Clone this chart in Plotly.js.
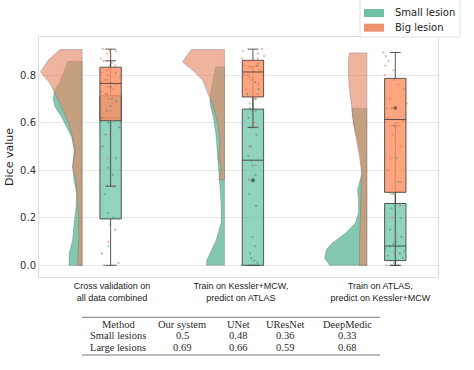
<!DOCTYPE html>
<html><head><meta charset="utf-8">
<script src="https://cdn.plot.ly/plotly-3.0.1.min.js"></script>
<style>html,body{margin:0;padding:0;background:#fff}#chart{width:474px;height:370px}</style>
</head><body><div id="chart"></div>
<script>
// ---------- data ----------
const categories = ["Cross validation on<br>all data combined", "Train on Kessler+MCW,<br>predict on ATLAS", "Train on ATLAS,<br>predict on Kessler+MCW"];
const groupNames = ["Small lesion", "Big lesion"];

// box statistics
const smallQ1 = [0.195, 0.0, 0.02];
const smallMedian = [0.62, 0.442, 0.081];
const smallQ3 = [0.713, 0.657, 0.26];
const smallLower = [0.0, 0.0, 0.0];
const smallUpper = [0.86, 0.837, 0.587];
const bigQ1 = [0.608, 0.708, 0.307];
const bigMedian = [0.765, 0.813, 0.613];
const bigQ3 = [0.833, 0.862, 0.786];
const bigLower = [0.333, 0.58, 0.0];
const bigUpper = [0.909, 0.909, 0.895];
const smallMean = [null, 0.358, null];
const bigMean = [null, null, 0.662];

// half-violin density profiles (dice level, density width)
const smallDensY1 = [0.0, 0.05, 0.106, 0.176, 0.246, 0.302, 0.358, 0.414, 0.484, 0.54, 0.582, 0.624, 0.666, 0.70, 0.74, 0.765, 0.807, 0.858];
const smallDensW1 = [13, 13, 9.5, 8, 6, 5.5, 8, 9.5, 8, 10.5, 15.5, 20.5, 27, 29, 27, 23, 19, 14];
const bigDensY1 = [0.0, 0.05, 0.106, 0.2, 0.3, 0.358, 0.414, 0.484, 0.54, 0.603, 0.666, 0.72, 0.765, 0.813, 0.862, 0.907];
const bigDensW1 = [4.5, 4, 3.3, 3.5, 5, 6, 9.5, 7, 9.5, 14, 20.5, 27, 32, 41.5, 34, 22];
const smallDensY2 = [0.0, 0.022, 0.064, 0.106, 0.18, 0.25, 0.32, 0.39, 0.46, 0.55, 0.62, 0.68, 0.72, 0.78, 0.835];
const smallDensW2 = [18, 17.6, 13.3, 8.3, 3.3, 3.3, 4.3, 5.7, 6.7, 8.5, 11, 14.5, 14, 11.5, 9];
const bigDensY2 = [0.36, 0.386, 0.414, 0.456, 0.526, 0.597, 0.68, 0.722, 0.778, 0.82, 0.855, 0.907];
const bigDensW2 = [5.7, 4, 3.3, 5.7, 4.3, 6.7, 12, 16.6, 21.6, 31.6, 42, 33];
const smallDensY3 = [0.0, 0.029, 0.064, 0.092, 0.134, 0.176, 0.218, 0.274, 0.316, 0.386, 0.456, 0.526, 0.597, 0.66];
const smallDensW3 = [37, 42, 40.6, 35, 21.7, 11.7, 8.5, 8.3, 9.3, 5, 6, 9.3, 13.3, 15];
const bigDensY3 = [0.0, 0.106, 0.176, 0.246, 0.316, 0.386, 0.456, 0.526, 0.597, 0.666, 0.737, 0.807, 0.862, 0.893];
const bigDensW3 = [7.3, 7.3, 6.7, 6.7, 6, 5, 7.3, 10, 13.3, 15, 17.4, 18.3, 18.3, 17.4];

// individual observations (rain)
const smallPts1 = [0.86, 0.84, 0.81, 0.78, 0.75, 0.73, 0.72, 0.70, 0.69, 0.67, 0.65, 0.62, 0.60, 0.58, 0.55, 0.5, 0.45, 0.41, 0.38, 0.3, 0.22, 0.2, 0.17, 0.15, 0.08, 0.05, 0.01, 0.0, 0.0];
const bigPts1 = [0.91, 0.9, 0.9, 0.89, 0.88, 0.87, 0.86, 0.85, 0.84, 0.83, 0.82, 0.81, 0.8, 0.79, 0.78, 0.77, 0.76, 0.75, 0.74, 0.72, 0.7, 0.68, 0.65, 0.61, 0.55, 0.45, 0.33, 0.1, 0.0];
const smallPts2 = [0.84, 0.8, 0.77, 0.74, 0.72, 0.7, 0.68, 0.66, 0.65, 0.62, 0.58, 0.55, 0.5, 0.46, 0.44, 0.42, 0.38, 0.3, 0.25, 0.12, 0.08, 0.05, 0.03, 0.02, 0.01, 0.0, 0.0, 0.0];
const bigPts2 = [0.91, 0.9, 0.89, 0.88, 0.87, 0.87, 0.86, 0.86, 0.85, 0.84, 0.83, 0.82, 0.81, 0.8, 0.79, 0.78, 0.76, 0.74, 0.72, 0.71, 0.7, 0.68, 0.65, 0.6, 0.58, 0.5, 0.42, 0.36];
const smallPts3 = [0.66, 0.587, 0.45, 0.35, 0.3, 0.26, 0.24, 0.2, 0.15, 0.12, 0.1, 0.09, 0.08, 0.08, 0.07, 0.06, 0.05, 0.04, 0.03, 0.02, 0.02, 0.01, 0.0];
const bigPts3 = [0.895, 0.88, 0.86, 0.84, 0.82, 0.8, 0.78, 0.76, 0.74, 0.7, 0.68, 0.66, 0.64, 0.62, 0.61, 0.6, 0.55, 0.5, 0.45, 0.4, 0.35, 0.31, 0.3, 0.25, 0.2, 0.12, 0.05, 0.0];

// summary table
const tableMethods = ["Our system", "UNet", "UResNet", "DeepMedic"];
const tableSmall = ["0.5", "0.48", "0.36", "0.33"];
const tableLarge = ["0.69", "0.66", "0.59", "0.68"];

// ---------- styles ----------
const densScale = 1 / 142;
const violinOffset = 0.2;
const labelPos = [0.01, 0.915, 1.895];
const cViolinSmall = 'rgba(90,180,150,0.75)';
const cViolinBig = 'rgba(230,140,105,0.65)';
const cBoxSmall = 'rgba(102,194,165,0.72)';
const cBoxBig = 'rgba(252,141,98,0.8)';
const cLegend = ['rgb(112,193,163)', 'rgb(237,147,111)'];

function halfViolin(ci, ys, ws, color) {
  const edge = ci - violinOffset;
  const x = [edge].concat(ws.map(w => edge - w * densScale), [edge, edge]);
  const y = [ys[0]].concat(ys, [ys[ys.length - 1], ys[0]]);
  return {type: 'scatter', mode: 'lines', x: x, y: y, fill: 'toself', fillcolor: color,
    line: {color: 'rgba(90,90,90,0.4)', width: 0.8}, showlegend: false, hoverinfo: 'skip'};
}

const traces = [];
const smallDens = [[smallDensY1, smallDensW1], [smallDensY2, smallDensW2], [smallDensY3, smallDensW3]];
const bigDens = [[bigDensY1, bigDensW1], [bigDensY2, bigDensW2], [bigDensY3, bigDensW3]];
smallDens.forEach((d, i) => traces.push(halfViolin(i, d[0], d[1], cViolinSmall)));
bigDens.forEach((d, i) => traces.push(halfViolin(i, d[0], d[1], cViolinBig)));

const catIdx = [0, 1, 2];
function statBox(q1, med, q3, lo, hi, fill, name) {
  return {type: 'box', name: name, x: catIdx, q1: q1, median: med, q3: q3, lowerfence: lo, upperfence: hi,
    boxpoints: false, width: 0.15, fillcolor: fill, whiskerwidth: 0.5,
    line: {color: 'rgba(60,60,60,0.85)', width: 1}, showlegend: false, hoverinfo: 'skip'};
}
traces.push(statBox(smallQ1, smallMedian, smallQ3, smallLower, smallUpper, cBoxSmall, groupNames[0]));
traces.push(statBox(bigQ1, bigMedian, bigQ3, bigLower, bigUpper, cBoxBig, groupNames[1]));

function rain(ptsList, color) {
  const x = [], y = [];
  ptsList.forEach((pts, i) => pts.forEach(v => { x.push(i); y.push(v); }));
  return {type: 'box', x: x, y: y, boxpoints: 'all', jitter: 1, pointpos: 0, width: 0.17,
    fillcolor: 'rgba(0,0,0,0)', line: {width: 0, color: 'rgba(0,0,0,0)'}, whiskerwidth: 0,
    marker: {size: 2.2, color: color}, showlegend: false, hoverinfo: 'skip'};
}
traces.push(rain([smallPts1, smallPts2, smallPts3], 'rgba(50,140,110,0.5)'));
traces.push(rain([bigPts1, bigPts2, bigPts3], 'rgba(225,105,65,0.5)'));

traces.push({type: 'scatter', mode: 'markers', x: catIdx, y: smallMean, marker: {size: 4, color: 'rgba(40,110,90,0.9)'}, showlegend: false, hoverinfo: 'skip'});
traces.push({type: 'scatter', mode: 'markers', x: catIdx, y: bigMean, marker: {size: 4, color: 'rgba(170,80,50,0.9)'}, showlegend: false, hoverinfo: 'skip'});

// ---------- pixel -> paper helpers ----------
const L = 39, R = 438, T = 37, B = 277;
const px = v => (v - L) / (R - L);
const py = v => (B - v) / (B - T);

const annotations = [];
const shapes = [];

// legend (drawn manually to match the seaborn legend box)
shapes.push({type: 'rect', xref: 'paper', yref: 'paper', x0: px(360), x1: px(460), y0: py(-1), y1: py(37),
  fillcolor: 'rgba(255,255,255,0.9)', line: {color: '#e2e2e2', width: 1}});
[13, 27.7].forEach((cy, k) => {
  shapes.push({type: 'rect', xref: 'paper', yref: 'paper', x0: px(364), x1: px(384), y0: py(cy - 4), y1: py(cy + 4),
    fillcolor: cLegend[k], line: {width: 0}});
  annotations.push({xref: 'paper', yref: 'paper', x: px(393), y: py(cy), text: groupNames[k], showarrow: false,
    xanchor: 'left', yanchor: 'middle', font: {family: 'DejaVu Sans, sans-serif', size: 10, color: '#222'}});
});

// summary table
const colX = [118, 182, 238, 285, 347];
const rowY = [324, 335.7, 347.3];
const tfont = {family: 'Liberation Serif, Times New Roman, serif', size: 10.5, color: '#2a2a2a'};
const rowsText = [["Method"].concat(tableMethods), ["Small lesions"].concat(tableSmall), ["Large lesions"].concat(tableLarge)];
rowsText.forEach((row, r) => row.forEach((t, c) => annotations.push({
  xref: 'paper', yref: 'paper', x: px(colX[c]), y: py(rowY[r]), text: t, showarrow: false,
  xanchor: 'center', yanchor: 'middle', font: tfont})));
[317.3, 355].forEach(yy => shapes.push({type: 'line', xref: 'paper', yref: 'paper', x0: px(82), x1: px(380),
  y0: py(yy), y1: py(yy), line: {color: '#555', width: 0.8}}));

const layout = {
  width: 474, height: 370,
  margin: {l: 39, r: 36, t: 37, b: 93},
  paper_bgcolor: '#fff', plot_bgcolor: '#fff',
  boxmode: 'overlay',
  showlegend: false,
  xaxis: {range: [-0.503, 2.30], tickvals: labelPos, ticktext: categories, showgrid: false, zeroline: false,
    showline: true, mirror: true, linecolor: '#dcdcdc', linewidth: 1, ticks: '',
    tickfont: {family: 'Liberation Sans, Arial, sans-serif', size: 9, color: '#222'}},
  yaxis: {range: [-0.049, 0.96], tickvals: [0, 0.2, 0.4, 0.6, 0.8], tickformat: '.1f', showgrid: true,
    gridcolor: '#e6e6e6', gridwidth: 1, zeroline: false, showline: true, mirror: true, linecolor: '#dcdcdc',
    ticks: '', tickfont: {family: 'DejaVu Sans, sans-serif', size: 10, color: '#333'},
    title: {text: 'Dice value', font: {family: 'DejaVu Sans, sans-serif', size: 11, color: '#222'}, standoff: 4}},
  annotations: annotations,
  shapes: shapes
};

Plotly.newPlot('chart', traces, layout, {staticPlot: true, displayModeBar: false});
</script>
</body></html>
